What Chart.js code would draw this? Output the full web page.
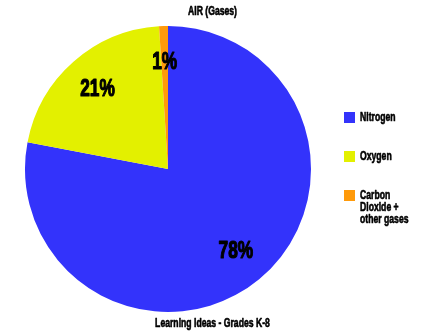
<!DOCTYPE html>
<html>
<head>
<meta charset="utf-8">
<script src="https://cdn.jsdelivr.net/npm/chart.js@4/dist/chart.umd.min.js"></script>
<style>
  html, body { margin: 0; padding: 0; background: #fff; }
  #wrap { width: 425px; height: 331px; }
</style>
</head>
<body>
<div id="wrap"><canvas id="airChart" width="425" height="331"></canvas></div>
<script>
// chart data
const chartTitle = "AIR (Gases)";
const chartFooter = "Learning Ideas - Grades K-8";
const categories = ["Nitrogen", "Oxygen", "Carbon Dioxide + other gases"];
const legendLines = [["Nitrogen"], ["Oxygen"], ["Carbon", "Dioxide +", "other gases"]];
const percentages = [78, 21, 1];
const sliceColors = ["#3333fb", "#e3f000", "#ff9a0a"];

const FONT = '"Liberation Sans", Arial, sans-serif';
const SQUEEZE = 0.72; // the original uses a narrow, heavy face

// squeezed + slightly stroked text to look like the heavy condensed original
function narrowText(ctx, text, x, y, weight) {
  ctx.save();
  ctx.translate(x, y);
  ctx.scale(SQUEEZE, 1);
  ctx.fillText(text, 0, 0);
  ctx.lineWidth = weight;
  ctx.strokeStyle = ctx.fillStyle;
  ctx.lineJoin = "round";
  ctx.strokeText(text, 0, 0);
  ctx.restore();
}

// draws the title, footer, legend and % labels
const textPlugin = {
  id: "airText",
  afterDatasetsDraw(chart) {
    const ctx = chart.ctx;
    const meta = chart.getDatasetMeta(0);
    ctx.save();
    ctx.fillStyle = "#000";
    ctx.textAlign = "center";
    ctx.textBaseline = "middle";

    // percentage labels inside the slices
    ctx.font = "bold 24px " + FONT;
    meta.data.forEach((arc, i) => {
      const mid = (arc.startAngle + arc.endAngle) / 2;
      const r = arc.outerRadius * 0.745;
      narrowText(ctx, percentages[i] + "%", arc.x + Math.cos(mid) * r, arc.y + Math.sin(mid) * r, 1.2);
    });

    // title and footer
    ctx.font = "bold 12px " + FONT;
    narrowText(ctx, chartTitle, chart.width / 2, 12, 0.6);
    narrowText(ctx, chartFooter, chart.width / 2, 324, 0.6);

    // legend
    ctx.textAlign = "left";
    const ys = [117.5, 156.5, 195.5];
    legendLines.forEach((lines, i) => {
      ctx.fillStyle = sliceColors[i];
      ctx.fillRect(344, ys[i] - 5.5, 11, 11);
      ctx.fillStyle = "#000";
      lines.forEach((t, j) => narrowText(ctx, t, 360, ys[i] + j * 12, 0.6));
    });
    ctx.restore();
  }
};

new Chart(document.getElementById("airChart"), {
  type: "pie",
  data: {
    labels: categories,
    datasets: [
      {
        data: percentages,
        backgroundColor: sliceColors,
        borderWidth: 0,
      },
    ],
  },
  options: {
    responsive: false,
    animation: false,
    layout: {
      padding: { left: 25, right: 114, top: 26, bottom: 19 },
    },
    plugins: {
      legend: { display: false },
      title: { display: false },
      tooltip: { enabled: false },
    },
  },
  plugins: [textPlugin],
});
</script>
</body>
</html>
